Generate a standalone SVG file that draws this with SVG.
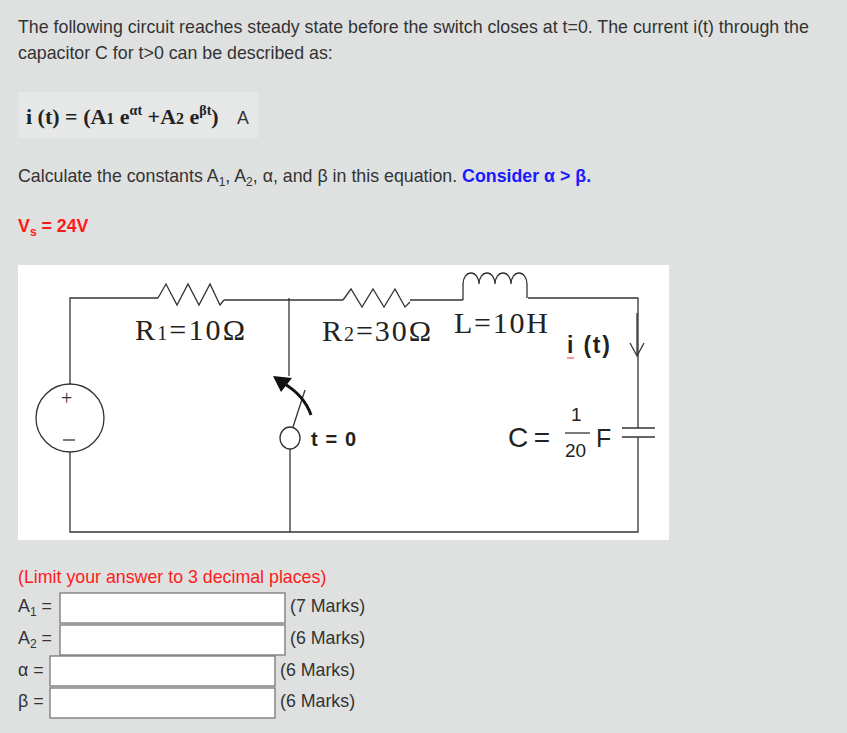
<svg xmlns="http://www.w3.org/2000/svg" width="847" height="733" viewBox="0 0 847 733">
<style>
.t{font-family:"Liberation Sans",Arial,sans-serif;font-size:17.8px;fill:#333}
.w{fill:none;stroke:#333;stroke-width:1.3}
.cf{font-family:"Liberation Serif","Times New Roman",serif;font-size:30px;fill:#222}
.cs{font-family:"Liberation Sans Narrow","Liberation Sans",sans-serif;fill:#222}
.box{fill:#fff;stroke:#777;stroke-width:1.3}
</style>
<rect width="847" height="733" fill="#dfe1e1"/>
<text class="t" x="18" y="33">The following circuit reaches steady state before the switch closes at t=0. The current i(t) through the</text>
<text class="t" x="18" y="59">capacitor C for t&gt;0 can be described as:</text>
<rect x="18" y="92" width="240" height="46" fill="#e6e7e7"/>
<text x="26" y="124" font-family="Liberation Serif,serif" font-size="22" font-weight="bold" fill="#222">i (t) = (A<tspan font-size="16">1</tspan> e<tspan font-size="14" dy="-9">αt</tspan><tspan dy="9"> +A</tspan><tspan font-size="16">2</tspan> e<tspan font-size="14" dy="-9">βt</tspan><tspan dy="9">)</tspan></text>
<text class="t" x="237" y="124">A</text>
<text class="t" x="18" y="182">Calculate the constants A<tspan font-size="12" dy="4">1</tspan><tspan dy="-4">, A</tspan><tspan font-size="12" dy="4">2</tspan><tspan dy="-4">, α, and β in this equation. </tspan><tspan fill="#1a1aff" font-weight="bold">Consider α &gt; β.</tspan></text>
<text x="18" y="232" font-family="Liberation Sans,sans-serif" font-size="17.8" font-weight="bold" fill="#ff1a1a">V<tspan font-size="12" dy="4">s</tspan><tspan dy="-4"> = 24V</tspan></text>
<g id="circuit">
<rect x="18" y="265" width="651" height="275" fill="#fff"/>
<g id="wires">
<polyline class="w" points="70,384 70,298 158,298"/>
<polyline class="w" points="224,300 289,300 343,300"/>
<polyline class="w" points="410,300 463,300"/>
<polyline class="w" points="528,298 638,298 638,428"/>
<polyline class="w" points="638,437 638,532 70,532 70,452"/>
<line class="w" x1="289" y1="298" x2="289" y2="376"/>
<line class="w" x1="290" y1="449" x2="290" y2="532"/>
</g>
<g id="R1"><polyline class="w" points="158,298 166,284 177,305 188,284 199,305 210,284 220,305 224,300"/><text class="cf" x="135" y="340" textLength="110">R<tspan font-size="20">1</tspan>=10Ω</text></g>
<g id="R2"><polyline class="w" points="343,300 351,289 362,307 373,289 384,307 395,289 405,307 410,302"/><text class="cf" x="322" y="341" textLength="109">R<tspan font-size="20">2</tspan>=30Ω</text></g>
<g id="L"><path class="w" d="M463,300 V284 A8,11 0 0 1 479,284 A8,11 0 0 1 495,284 A8,11 0 0 1 511,284 A8,11 0 0 1 527,284 V298"/><text class="cf" x="454" y="333" textLength="94">L=10H</text></g>
<g id="Vs"><ellipse class="w" cx="70" cy="418" rx="34" ry="34"/><text x="61" y="405" font-family="Liberation Serif,serif" font-size="20" fill="#333">+</text><line class="w" x1="63" y1="440" x2="75" y2="440"/></g>
<g id="switch"><ellipse class="w" cx="290" cy="438" rx="10" ry="11"/><line class="w" x1="293" y1="427" x2="305" y2="390"/><path d="M311,415 Q304,395 283,383" fill="none" stroke="#111" stroke-width="3"/><polygon points="273,376 292,378 281,392" fill="#111"/><text x="311" y="446" class="cs" font-size="20" font-weight="bold" textLength="45">t = 0</text></g>
<g id="C"><line class="w" x1="622" y1="428" x2="655" y2="428"/><line class="w" x1="622" y1="437" x2="655" y2="437"/>
<text class="cs" x="508" y="447" font-size="28" textLength="42">C =</text><text class="cs" x="571" y="421" font-size="19">1</text><line class="w" x1="565" y1="433" x2="590" y2="433"/><text class="cs" x="565" y="457" font-size="19">20</text><text class="cs" x="596" y="447" font-size="25">F</text></g>
<g id="current"><text x="567" y="353" class="cs" font-size="23" font-weight="bold" textLength="43">i (t)</text><line x1="567" y1="358" x2="574" y2="358" stroke="#e33" stroke-width="1"/><line class="w" x1="637" y1="313" x2="637" y2="355"/><polyline class="w" points="630,343 637,356 644,343"/></g>
</g>
<text x="18" y="583" font-family="Liberation Sans,sans-serif" font-size="17.8" fill="#ff1a1a">(Limit your answer to 3 decimal places)</text>
<g id="form">
<text class="t" x="18" y="612">A<tspan font-size="12" dy="4">1</tspan><tspan dy="-4"> =</tspan></text>
<rect class="box" x="60" y="593" width="225" height="30"/><text class="t" x="290" y="612">(7 Marks)</text>
<text class="t" x="18" y="644">A<tspan font-size="12" dy="4">2</tspan><tspan dy="-4"> =</tspan></text>
<rect class="box" x="60" y="625" width="225" height="30"/><text class="t" x="290" y="644">(6 Marks)</text>
<text class="t" x="18" y="676">α =</text>
<rect class="box" x="50" y="656" width="225" height="30"/><text class="t" x="280" y="676">(6 Marks)</text>
<text class="t" x="18" y="707">β =</text>
<rect class="box" x="50" y="688" width="225" height="30"/><text class="t" x="280" y="707">(6 Marks)</text>
</g>
</svg>
